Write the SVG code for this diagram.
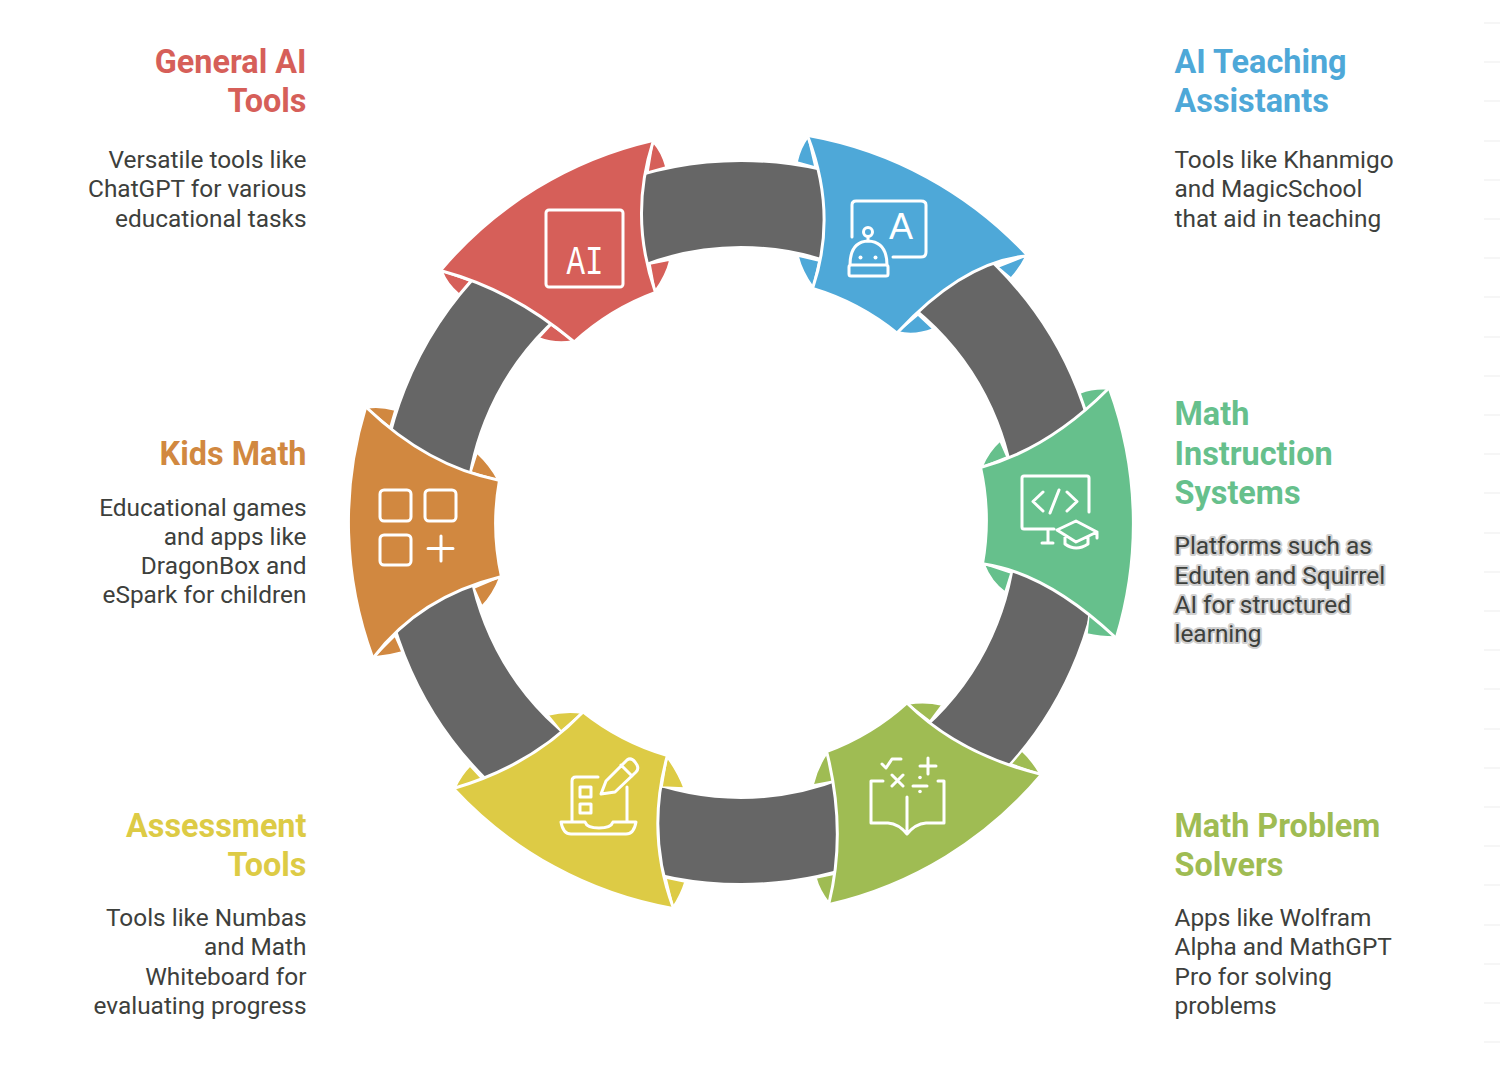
<svg xmlns="http://www.w3.org/2000/svg" width="1500" height="1089" viewBox="0 0 1500 1089">
<style>
text{font-family:Roboto,"Liberation Sans",sans-serif}
.h{font-size:32.400px;font-weight:700}
.b{font-size:24.400px;fill:#3d403c}
.r{text-anchor:end}
.halo{stroke:#d0d0d0;stroke-width:4px;paint-order:stroke;stroke-linejoin:round}
.w{stroke:#fff;stroke-width:1.500px;stroke-linejoin:round}
.e{fill:none;stroke:#fff;stroke-width:3px;stroke-linecap:round}
.ic{fill:none;stroke:#fff;stroke-width:3px;stroke-linecap:round;stroke-linejoin:round}
.link{fill:none;stroke:#666;stroke-width:84px}
</style>
<rect width="1500" height="1089" fill="#fff"/>
<path fill="none" stroke="#f3f3f3" stroke-width="1.500" d="M1484 23H1500M1484 62H1500M1484 101H1500M1484 141H1500M1484 180H1500M1484 219H1500M1484 258H1500M1484 297H1500M1484 337H1500M1484 376H1500M1484 415H1500M1484 454H1500M1484 493H1500M1484 533H1500M1484 572H1500M1484 611H1500M1484 650H1500M1484 689H1500M1484 729H1500M1484 768H1500M1484 807H1500M1484 846H1500M1484 885H1500M1484 925H1500M1484 964H1500M1484 1003H1500M1484 1042H1500"/>
<g id="connectors">
<circle class="link" cx="741" cy="522.5" r="318.5"/>
</g>
<g id="node-general-ai" fill="#d65f59">
<path class="w" d="M653 142Q662 152 666 167L648 172ZM670 260Q666 276 655 291L650 264ZM442 271Q447 284 459 294L470 281ZM573 341Q555 344 539 338L551 325Z"/>
<path d="M653 142A390 390 0 0 0 442 271Q512.500 290 573 341A247 247 0 0 1 655 291Q629 216 653 142Z"/>
<path class="e" d="M442 271Q512.500 290 573 341M655 291Q629 216 653 142"/>
<rect class="ic" x="546" y="210" width="77" height="77" rx="3"/>
<text x="585" y="274" text-anchor="middle" font-size="40" textLength="37" lengthAdjust="spacingAndGlyphs" fill="#fff" style="font-family:'Liberation Mono',monospace">AI</text>
<text class="h r" x="306.500" y="73">General AI</text>
<text class="h r" x="306.500" y="112">Tools</text>
<text class="b r" x="306.500" y="168">Versatile tools like</text>
<text class="b r" x="306.500" y="197">ChatGPT for various</text>
<text class="b r" x="306.500" y="227">educational tasks</text>
</g>
<g id="node-ai-teaching" fill="#4ea8d8">
<path class="w" d="M808 137Q800 148 797 162L815 167ZM798 256Q802 272 813 287L819 261ZM1026 256Q1020 268 1011 278L998 267ZM898 332Q915 336 933 329L918 315Z"/>
<path d="M808 137A390 390 0 0 1 1026 256Q963 262 898 332A247 247 0 0 0 813 287Q837.500 214 808 137Z"/>
<path class="e" d="M1026 256Q963 262 898 332M813 287Q837.500 214 808 137"/>
<path class="ic" d="M852 237V205Q852 201 856 201H921Q926 201 926 205V252Q926 257 921 257H893"/>
<circle class="ic" cx="868" cy="232" r="4.500"/>
<path class="ic" d="M868 237V241M850 265Q850 242 868 241Q887 242 887 265M851 265H886Q888 265 888 267V274Q888 276 886 276H851Q849 276 849 274V267Q849 265 851 265Z"/>
<circle cx="860.500" cy="257.500" r="2" fill="#fff"/>
<circle cx="875.500" cy="257.500" r="2" fill="#fff"/>
<text x="901" y="239" text-anchor="middle" font-size="36" fill="#fff" style="font-family:'Liberation Sans',sans-serif">A</text>
<text class="h" x="1174.500" y="73">AI Teaching</text>
<text class="h" x="1174.500" y="112">Assistants</text>
<text class="b" x="1174.500" y="168">Tools like Khanmigo</text>
<text class="b" x="1174.500" y="197">and MagicSchool</text>
<text class="b" x="1174.500" y="227">that aid in teaching</text>
</g>
<g id="node-math-instruction" fill="#66c08c">
<path class="w" d="M1108 389Q1093 388 1080 393L1086 410ZM982 467Q988 452 1000 441L1007 457ZM1115 637Q1100 637 1087 634L1089 614ZM984 564Q991 582 1005 592L1011 573Z"/>
<path d="M1108 389A390 390 0 0 1 1115 637Q1046.500 573 984 564A247 247 0 0 0 982 467Q1048 449 1108 389Z"/>
<path class="e" d="M1115 637Q1046.500 573 984 564M982 467Q1048 449 1108 389"/>
<path class="ic" d="M1089 512V478Q1089 476 1087 476H1024Q1022 476 1022 478V527Q1022 529 1024 529H1054M1048 530V543M1042 543H1053M1043 492L1033 501.500L1043 511M1059 490L1050 513M1067 492L1077 501.500L1067 511M1057 530L1076 521L1097 532L1076 542ZM1065 537V544Q1076 552 1088 544V537M1097 532V538"/>
<text class="h" x="1174.500" y="425">Math</text>
<text class="h" x="1174.500" y="465">Instruction</text>
<text class="h" x="1174.500" y="504">Systems</text>
<text class="b halo" x="1174.500" y="554">Platforms such as</text>
<text class="b halo" x="1174.500" y="584">Eduten and Squirrel</text>
<text class="b halo" x="1174.500" y="613">AI for structured</text>
<text class="b halo" x="1174.500" y="642">learning</text>
</g>
<g id="node-math-solvers" fill="#9fbc53">
<path class="w" d="M908 704Q925 701 942 705L930 721ZM1040 774Q1032 760 1022 751L1011 764ZM827 753Q817 768 813 785L834 781ZM829 903Q819 890 816 878L835 874Z"/>
<path d="M908 704Q959 754 1040 774A390 390 0 0 1 829 903Q846.600 832 827 753A247 247 0 0 0 908 704Z"/>
<path class="e" d="M908 704Q959 754 1040 774M829 903Q846.600 832 827 753"/>
<path class="ic" d="M883 781H871V823H888Q899 824 907 834Q915 824 926 823H944V781H938M907 797V832M882 764L886 768L892 759H901M928 758V774M920 766H936M892 775L903 786M903 775L892 786M913 786H927"/>
<circle cx="920" cy="777.500" r="1.800" fill="#fff"/>
<circle cx="920" cy="791.500" r="1.800" fill="#fff"/>
<text class="h" x="1174.500" y="837">Math Problem</text>
<text class="h" x="1174.500" y="876">Solvers</text>
<text class="b" x="1174.500" y="926">Apps like Wolfram</text>
<text class="b" x="1174.500" y="955">Alpha and MathGPT</text>
<text class="b" x="1174.500" y="985">Pro for solving</text>
<text class="b" x="1174.500" y="1014">problems</text>
</g>
<g id="node-assessment" fill="#ddcb45">
<path class="w" d="M582 713Q564 711 548 715L561 731ZM455 788Q461 775 470 766L482 779ZM667 757Q678 772 684 788L662 787ZM673 907Q681 895 685 882L666 878Z"/>
<path d="M582 713A247 247 0 0 0 667 757Q646 834 673 907A390 390 0 0 1 455 788Q531.500 765.500 582 713Z"/>
<path class="e" d="M667 757Q646 834 673 907M455 788Q531.500 765.500 582 713"/>
<path class="ic" d="M627 787V822M572 822V781Q572 777 576 777H598M561 822H585Q587 828 599 828Q611 828 613 822H636Q634 834 626 834H571Q563 834 561 822ZM580 787H591V797H580ZM580 804H591V813H580ZM601 794L606 781L627 760Q631 757 635 762L637 765Q639 769 636 772L615 792ZM621 765L632 776"/>
<text class="h r" x="306.500" y="837">Assessment</text>
<text class="h r" x="306.500" y="876">Tools</text>
<text class="b r" x="306.500" y="926">Tools like Numbas</text>
<text class="b r" x="306.500" y="955">and Math</text>
<text class="b r" x="306.500" y="985">Whiteboard for</text>
<text class="b r" x="306.500" y="1014">evaluating progress</text>
</g>
<g id="node-kids-math" fill="#d18840">
<path class="w" d="M367 408Q380 406 395 410L390 427ZM498 480Q490 465 477 453L471 472ZM500 577Q493 595 482 606L474 588ZM374 657Q388 656 402 652L395 636Z"/>
<path d="M367 408Q427.500 466 498 480A247 247 0 0 0 500 577Q419.600 597 374 657A390 390 0 0 1 367 408Z"/>
<path class="e" d="M367 408Q427.500 466 498 480M500 577Q419.600 597 374 657"/>
<rect class="ic" x="380" y="490" width="31" height="31" rx="4"/>
<rect class="ic" x="425" y="490" width="31" height="31" rx="4"/>
<rect class="ic" x="380" y="535" width="31" height="30" rx="4"/>
<path class="ic" d="M441 536V561M428 548.500H453"/>
<text class="h r" x="306.500" y="465">Kids Math</text>
<text class="b r" x="306.500" y="516">Educational games</text>
<text class="b r" x="306.500" y="545">and apps like</text>
<text class="b r" x="306.500" y="574">DragonBox and</text>
<text class="b r" x="306.500" y="603">eSpark for children</text>
</g>
</svg>
